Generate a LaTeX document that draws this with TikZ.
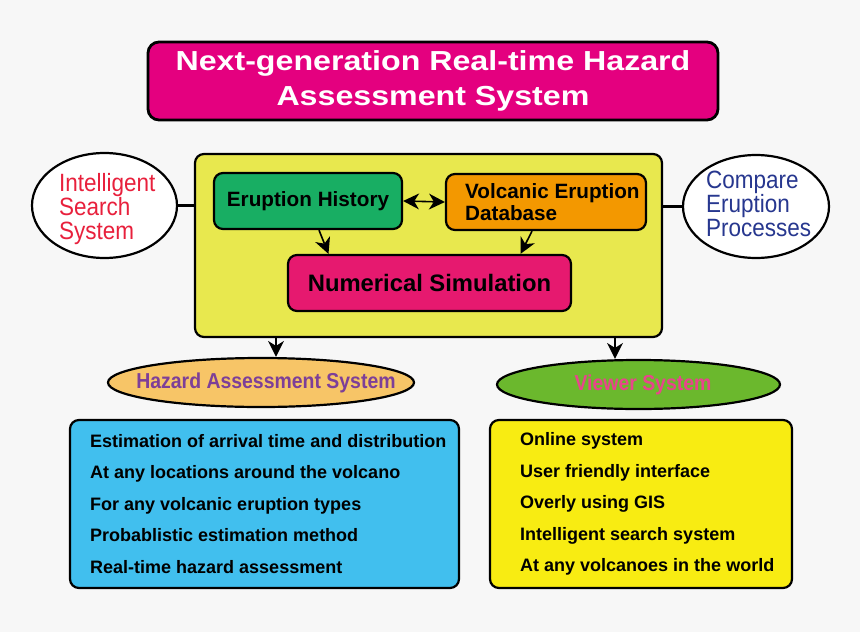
\documentclass[tikz,border=0pt]{standalone}
\usepackage{fontspec}
\setmainfont{Liberation Sans}
\newfontfamily\narrowfont[FakeStretch=0.9]{Liberation Sans}
\newfontfamily\hazfont[FakeStretch=0.9]{Liberation Sans}
\newfontfamily\widefont[FakeStretch=1.17]{Liberation Sans}
\usetikzlibrary{shapes.geometric,arrows.meta}
\definecolor{bgc}{HTML}{F7F7F7}
\definecolor{titlec}{HTML}{E4007F}
\definecolor{panelc}{HTML}{E8E84E}
\definecolor{greenc}{HTML}{18AE63}
\definecolor{orangec}{HTML}{F39800}
\definecolor{pinkc}{HTML}{E6196F}
\definecolor{bluec}{HTML}{41BFEE}
\definecolor{brightyc}{HTML}{F8EC12}
\definecolor{hazfill}{HTML}{F7C567}
\definecolor{viewfill}{HTML}{6BB82D}
\definecolor{redtext}{HTML}{E8203C}
\definecolor{navytext}{HTML}{27378F}
\definecolor{purptext}{HTML}{7D3F98}
\definecolor{viewtext}{HTML}{E8458B}
\tikzset{
  box/.style={draw=black, line width=2.2pt, rounded corners=9pt, inner sep=0pt},
  oval/.style={draw=black, line width=2.2pt, ellipse, inner sep=0pt},
  tipa/.tip={Stealth[length=16pt,width=16pt,inset=5pt,line width=0pt]},
  arr/.style={line width=1.6pt, -tipa},
  darr/.style={line width=1.6pt, tipa-tipa},
  link/.style={line width=2.2pt},
  inner/.style={font=\fontsize{20.7}{22}\selectfont\bfseries},
  listtxt/.style={anchor=west, align=left, inner sep=0pt, font=\fontsize{18}{31.5}\selectfont\bfseries},
  bubbletxt/.style={anchor=west, align=left, inner sep=0pt, font=\narrowfont\fontsize{25}{24}\selectfont}
}
\begin{document}
\begin{tikzpicture}[x=1pt,y=-1pt]
\fill[bgc] (0,0) rectangle (860,632);
\useasboundingbox (0,0) rectangle (860,632);

% title
\node[box, line width=2.8pt, fill=titlec, minimum width=570pt, minimum height=78pt, rounded corners=11pt,
      text=white, align=center, font=\widefont\fontsize{27.5}{35}\selectfont\bfseries] (title) at (433,81)
      {Next-generation Real-time Hazard\\Assessment System};

% central panel
\node[box, fill=panelc, minimum width=467pt, minimum height=183pt] (panel) at (428.5,245.5) {};
\node[box, fill=greenc, minimum width=188pt, minimum height=56pt, inner] (eh) at (308,201) {Eruption History};
\node[box, fill=orangec, minimum width=200pt, minimum height=56pt] (db) at (546,202) {};
\node[anchor=west, align=left, inner sep=0pt, inner] (dbtxt) at (465,202) {Volcanic Eruption\\Database};
\node[box, fill=pinkc, minimum width=283pt, minimum height=56pt, font=\fontsize{23.8}{26}\selectfont\bfseries] (ns) at (429.5,283) {Numerical Simulation};

\draw[darr] (eh.east) -- (db.west);
\draw[arr] ([xshift=11pt]eh.south) -- ([xshift=-101pt]ns.north);
\draw[arr] ([xshift=-14pt]db.south) -- ([xshift=91pt]ns.north);

% side bubbles
\node[oval, fill=white, minimum width=145pt, minimum height=105pt] (isearch) at (104.5,205.5) {};
\node[bubbletxt, text=redtext] (istxt) at (59,209) {Intelligent\\Search\\System};
\node[oval, fill=white, minimum width=146pt, minimum height=103pt] (compare) at (756,206.5) {};
\node[bubbletxt, text=navytext] (cptxt) at (706,204) {Compare\\Eruption\\Processes};
\draw[link] (isearch.east) -- (isearch.east -| panel.west);
\draw[link] (compare.west) -- (compare.west -| panel.east);

% lower ellipses
\node[oval, fill=hazfill, minimum width=306pt, minimum height=49pt] (haz) at (261,382.5) {};
\node[inner sep=0pt, text=purptext, font=\hazfont\fontsize{21.6}{24}\selectfont\bfseries] (haztxt) at (266,383) {Hazard Assessment System};
\node[oval, fill=viewfill, minimum width=283pt, minimum height=49pt] (view) at (638.5,384.5) {};
\node[inner sep=0pt, text=viewtext, font=\hazfont\fontsize{21.6}{24}\selectfont\bfseries] (viewtxt) at (643,384.5) {Viewer System};

\coordinate (pl) at ([xshift=-152.5pt]panel.south);
\coordinate (pr) at ([xshift=186.5pt]panel.south);
\draw[arr] (pl) -- (pl |- haz.north);
\draw[arr] (pr) -- (pr |- view.north);

% lists
\node[box, fill=bluec, minimum width=389pt, minimum height=168pt] (hazlist) at (264.5,504) {};
\node[listtxt] (hazitems) at (90,504) {Estimation of arrival time and distribution\\At any locations around the volcano\\For any volcanic eruption types\\Probablistic estimation method\\Real-time hazard assessment};
\node[box, fill=brightyc, minimum width=302pt, minimum height=168pt] (viewlist) at (641,504) {};
\node[listtxt] (viewitems) at (520,504) {Online system\\User friendly interface\\Overly using GIS\\Intelligent search system\\At any volcanoes in the world};
\end{tikzpicture}
\end{document}
